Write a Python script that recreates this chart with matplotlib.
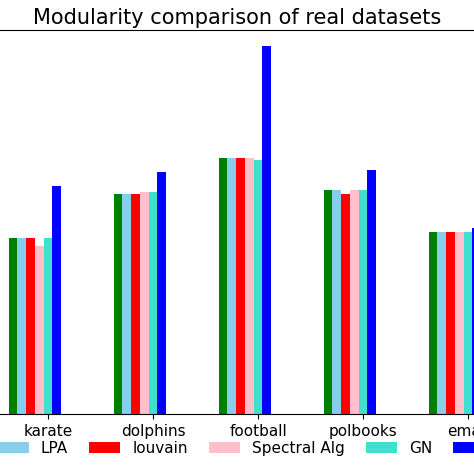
import matplotlib
matplotlib.use("Agg")
import matplotlib.pyplot as plt
import numpy as np

datasets = ["karate", "dolphins", "football", "polbooks", "email"]
methods = ["GA", "LPA", "louvain", "Spectral Alg", "GN", "Proposed"]
colors = ["green", "skyblue", "red", "pink", "turquoise", "blue"]
values = {
    "GA":           [0.44, 0.55, 0.64, 0.56, 0.455],
    "LPA":          [0.44, 0.55, 0.64, 0.56, 0.455],
    "louvain":      [0.44, 0.55, 0.64, 0.55, 0.455],
    "Spectral Alg": [0.42, 0.555, 0.64, 0.56, 0.455],
    "GN":           [0.44, 0.555, 0.635, 0.56, 0.455],
    "Proposed":     [0.57, 0.605, 0.92, 0.61, 0.465],
}

fig = plt.figure(figsize=(4.74, 4.74), dpi=100)
ax = fig.add_axes([0, 60/474, 1, 384/474])
x = np.arange(len(datasets))
w = 0.083
for i, m in enumerate(methods):
    ax.bar(x + (i - 4) * w, values[m], width=w, color=colors[i], label=m)
ax.set_xticks(x)
ax.set_xticklabels(datasets, fontsize=11)
ax.set_yticks([])
ax.set_xlim(-48/105, 426/105)
ax.set_ylim(0, 0.96)
ax.spines["left"].set_visible(False)
ax.spines["right"].set_visible(False)
ax.set_title("Modularity comparison of real datasets", fontsize=15, pad=4)
fig.legend(loc="upper left", ncol=6, frameon=False, fontsize=11,
           bbox_to_anchor=(-102/474, 47/474), handletextpad=0.8, columnspacing=1.4)
fig.savefig("out.png", dpi=100)
